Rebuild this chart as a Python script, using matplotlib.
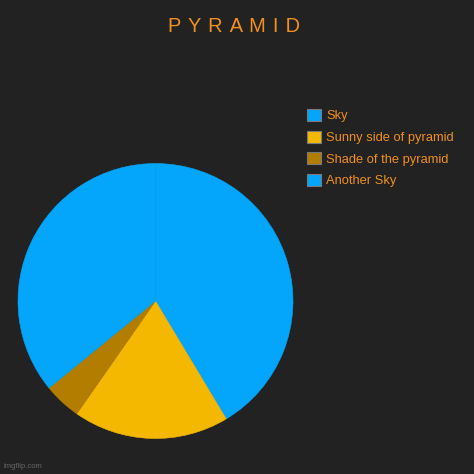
import matplotlib
matplotlib.use("Agg")
import matplotlib.pyplot as plt
from matplotlib.patches import Patch

labels = ["Sky", "Sunny side of pyramid", "Shade of the pyramid", "Another Sky"]
values = [41.4, 18.3, 4.4, 35.9]
colors = ["#03A6FB", "#F5B800", "#B37E00", "#03A6FB"]
title = "P Y R A M I D"

BG = "#222222"
TXT = "#F0901F"

W = H = 474
fig = plt.figure(figsize=(W / 100, H / 100), dpi=100, facecolor=BG)
plt.rcParams['font.family'] = ['Liberation Sans', 'DejaVu Sans']

cx, cy, r = 155.5, 301.0, 137.5
ax = fig.add_axes([(cx - r) / W, (H - cy - r) / H, 2 * r / W, 2 * r / H])
ax.set_facecolor(BG)
ax.pie(values, colors=colors, startangle=90, counterclock=False, radius=1,
       wedgeprops=dict(linewidth=0.4, edgecolor=None))
for w, c in zip(ax.patches, colors):
    w.set_edgecolor(c)
ax.set_xlim(-1, 1)
ax.set_ylim(-1, 1)
ax.set_aspect("equal")
ax.axis("off")

fig.text(234 / W, 1 - 27 / H, title.replace(" ", " \u200a"), color=TXT,
         fontsize=14.4, ha="center", va="center")

handles = [Patch(facecolor=c, edgecolor="#7a7a7a", linewidth=0.8) for c in colors]
leg = fig.legend(handles, labels, loc="upper left",
                 bbox_to_anchor=(307 / W, 1 - 109 / H),
                 frameon=False, fontsize=9.3, labelcolor=TXT,
                 handlelength=1.05, handleheight=1.05, handletextpad=0.42,
                 labelspacing=0.64, borderpad=0.0, borderaxespad=0.0)

fig.text(3 / W, 1 - 467 / H, "imgflip.com", color="#666666", fontsize=5.5,
         ha="left", va="center")

fig.savefig("out.png", dpi=100, facecolor=BG)
